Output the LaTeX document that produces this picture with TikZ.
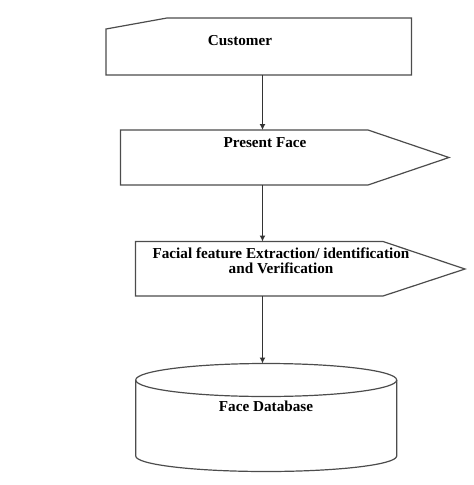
\documentclass[tikz,border=0pt]{standalone}
\usepackage{fontspec}
\setmainfont{Liberation Serif}
\usetikzlibrary{arrows.meta}
\begin{document}
\begin{tikzpicture}[x=1pt,y=-1pt,
  shapeline/.style={draw=black!70,line width=1.2pt},
  lbl/.style={font=\bfseries\fontsize{15.2}{15.5}\selectfont,inner sep=0pt,align=center,text=black},
  conn/.style={draw=black!80,line width=1.2pt,-{Latex[length=6pt,width=6pt]}}]
\useasboundingbox (0,0) rectangle (474,485);
% Customer (card shape)
\draw[shapeline] (106,29) -- (167,18) -- (411.5,18) -- (411.5,75) -- (106,75) -- cycle;
\node[lbl] (cust) at (240,41) {Customer};
\coordinate (custbot) at (262.5,75);
% Present Face (pentagon arrow)
\draw[shapeline] (120.5,130) -- (368,130) -- (449,157.5) -- (368,185) -- (120.5,185) -- cycle;
\node[lbl] (pres) at (265,143) {Present Face};
\coordinate (prestop) at (262.5,130);
\coordinate (presbot) at (262.5,185);
% Facial feature extraction
\draw[shapeline] (135.5,241.5) -- (383,241.5) -- (465,269) -- (383,296) -- (135.5,296) -- cycle;
\node[lbl] (feat) at (281,261) {Facial feature Extraction/ identification\\and Verification};
\coordinate (feattop) at (262.5,241.5);
\coordinate (featbot) at (262.5,296);
% Face database (cylinder)
\draw[shapeline] (266.2,380) ellipse [x radius=130.5, y radius=16.5];
\draw[shapeline] (135.7,380) -- (135.7,456) arc[start angle=180,end angle=0,x radius=130.5,y radius=15.5] -- (396.7,380);
\node[lbl] (db) at (266,406) {Face Database};
\coordinate (dbtop) at (262.5,363.5);
% connectors
\draw[conn] (custbot) -- (prestop);
\draw[conn] (presbot) -- (feattop);
\draw[conn] (featbot) -- (dbtop);
\end{tikzpicture}
\end{document}
